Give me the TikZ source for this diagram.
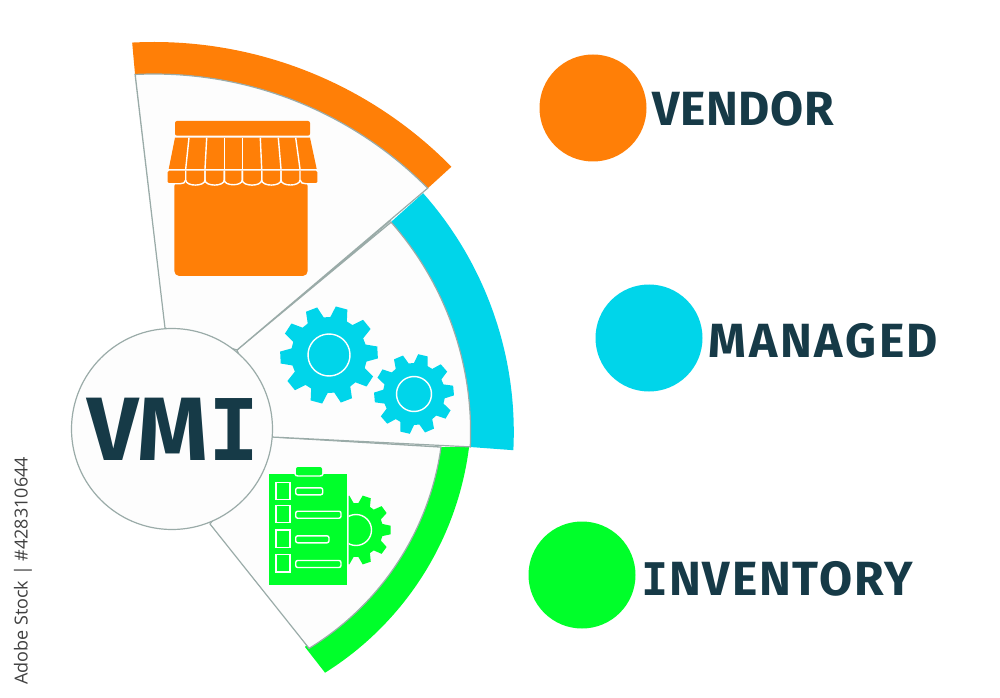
\documentclass[tikz,border=0pt]{standalone}
\usepackage{fontspec}
\setmainfont{Open Sans}
\newfontfamily\wordfont{Fira Sans}
\newfontfamily\slabfont{DejaVu Sans Mono}
\newcommand{\slabI}[1]{{\fontsize{#1}{#1}\slabfont\bfseries I}}
\usetikzlibrary{positioning}
\definecolor{vorange}{HTML}{FF7F07}
\definecolor{mcyan}{HTML}{00D5EA}
\definecolor{igreen}{HTML}{00FF2A}
\definecolor{inkteal}{HTML}{163A47}
\definecolor{rimgrey}{HTML}{9AABA8}
\definecolor{panelgrey}{HTML}{FDFDFD}
\tikzset{
  panel/.style={fill=panelgrey,draw=rimgrey,line width=1.2pt},
  hub/.style={circle,fill=panelgrey,draw=rimgrey,line width=1.2pt,minimum size=201pt,inner sep=0pt,text=inkteal,font=\fontsize{90}{90}\wordfont\bfseries},
  dot/.style={circle,minimum size=107pt,inner sep=0pt},
  word/.style={inner sep=0pt,text=inkteal,font=\fontsize{48}{48}\wordfont\bfseries\addfontfeature{LetterSpace=#1}},
  cut/.style={draw=white,line width=1.4pt},
}
\newcommand{\gearshape}[2]{(-13:#2) \foreach \a in {0,36,...,324} { -- (\a-13:#2) -- (\a-7:#1) -- (\a+7:#1) -- (\a+13:#2) } -- cycle}
\begin{document}
\begin{tikzpicture}[x=1pt,y=1pt]
  \useasboundingbox (0,0) rectangle (1000,697);
  % the three panels
  \coordinate (orangehub) at (154,238);
  \coordinate (cyanhub) at (154,265);
  \coordinate (greenhub) at (159,289);
  \fill[igreen] (greenhub) ++(-7.2:312.5pt) arc[start angle=-7.2,end angle=-57.9,radius=312.5pt] -- (305,50) -- (441,250) -- cycle;
  \draw[panel] (272,260) -- (441,250) (greenhub) ++(-7.9:284.7pt) arc[start angle=-7.9,end angle=-58.6,radius=281pt] -- (210,173) -- (272,260) -- cycle;
  \fill[mcyan] (cyanhub) ++(41.6:359.8pt) arc[start angle=41.6,end angle=-2.9,radius=359.8pt] -- (470,250) -- (391,475) -- cycle;
  \draw[panel] (237,347) -- (391,477) (cyanhub) ++(41.5:316.6pt) arc[start angle=41.5,end angle=-2.7,radius=316.6pt] -- (272,260) -- (237,347) -- cycle;
  \fill[vorange] (orangehub) ++(93:417pt) arc[start angle=93,end angle=44.5,radius=417pt] -- (427,508) -- (135,623) -- cycle;
  \draw[panel] (165,369) -- (135,623) (orangehub) ++(92.8:385pt) arc[start angle=92.8,end angle=44.7,radius=385pt] -- (237,347) -- (165,369) -- cycle;
  % shop
  \fill[vorange,rounded corners=2pt] (175,576) rectangle (310,561.3);
  \fill[vorange] (175,559.3) -- (310,559.3) -- (316.7,528) -- (168.7,528) -- cycle;
  \foreach \t/\b in {189/185.7,206.7/205,224.3/224.3,242.3/242.3,260.3/261.7,278.3/281,295.7/300}
    \draw[cut] (\t,559.3) -- (\b,528);
  \fill[vorange,rounded corners=5pt] (174.3,516) -- (174.3,421) -- (307.7,421) -- (307.7,516) -- cycle;
  \fill[vorange,rounded corners=1.5pt] (167.7,526.3) rectangle (317.3,513.7);
  \foreach \l/\r in {185.7/205,205/224.3,224.3/242.3,242.3/261.7,261.7/281,281/300}
    \draw[cut] (\l,526.3) -- (\l,517) to[out=-90,in=-90,looseness=.9] (\r,517) -- (\r,526.3);
  \draw[cut] (167.7,513.2) -- (180,513.2) to[out=0,in=-90] (185.7,517);
  \draw[cut] (317.3,513.2) -- (306,513.2) to[out=180,in=-90] (300,517);
  % gears
  \begin{scope}[shift={(329,342)},rotate=3]
    \fill[mcyan] \gearshape{49}{38};
    \draw[cut] (0,0) circle (21pt);
  \end{scope}
  \begin{scope}[shift={(414,303)},rotate=5]
    \fill[mcyan] \gearshape{40}{31};
    \draw[cut] (0,0) circle (17.5pt);
  \end{scope}
  % clipboard
  \begin{scope}
    \clip (348.5,100) rectangle (420,240);
    \begin{scope}[shift={(356,167)}]
      \fill[igreen] \gearshape{35}{27};
      \draw[cut] (0,0) circle (15.5pt);
    \end{scope}
  \end{scope}
  \fill[igreen] (268.7,223) rectangle (346.7,112);
  \fill[igreen,rounded corners=2pt] (296,230) rectangle (322,221);
  \draw[cut] (295,223) to[out=-90,in=180] (298,221) -- (320,221) to[out=0,in=-90] (323,223);
  \foreach \l/\h/\w in {197.7/214.3/322.7,174.3/191.3/341,149.7/167/329,125/142.3/341} {
    \draw[cut] (276,\l) rectangle (290,\h);
    \draw[cut,rounded corners=2pt] (295.7,\l+4.5) rectangle (\w,\l+11.5);
  }
  % hub and legend
  \node[hub] (vmi) at (172,268) {\hspace{3pt}\raisebox{-3pt}{VM\slabI{85}}};
  \node[dot,fill=vorange] (vendordot) at (593,589) {};
  \node[dot,fill=mcyan] (manageddot) at (649,359) {};
  \node[dot,fill=igreen] (inventorydot) at (582,122) {};
  \node[word=1,right=6pt of vendordot,yshift=-1pt] (vendor) {VENDOR};
  \node[word=5.6,right=6pt of manageddot,yshift=-3pt] (managed) {MANAGED};
  \node[word=4,right=6pt of inventorydot,yshift=-4pt] (inventory) {\slabI{45}NVENTORY};
  \node[rotate=90,anchor=west,inner sep=0pt,text=black!75,font=\fontsize{18}{18}\selectfont] (stockid) at (23,12) {Adobe Stock | \#428310644};
\end{tikzpicture}
\end{document}
